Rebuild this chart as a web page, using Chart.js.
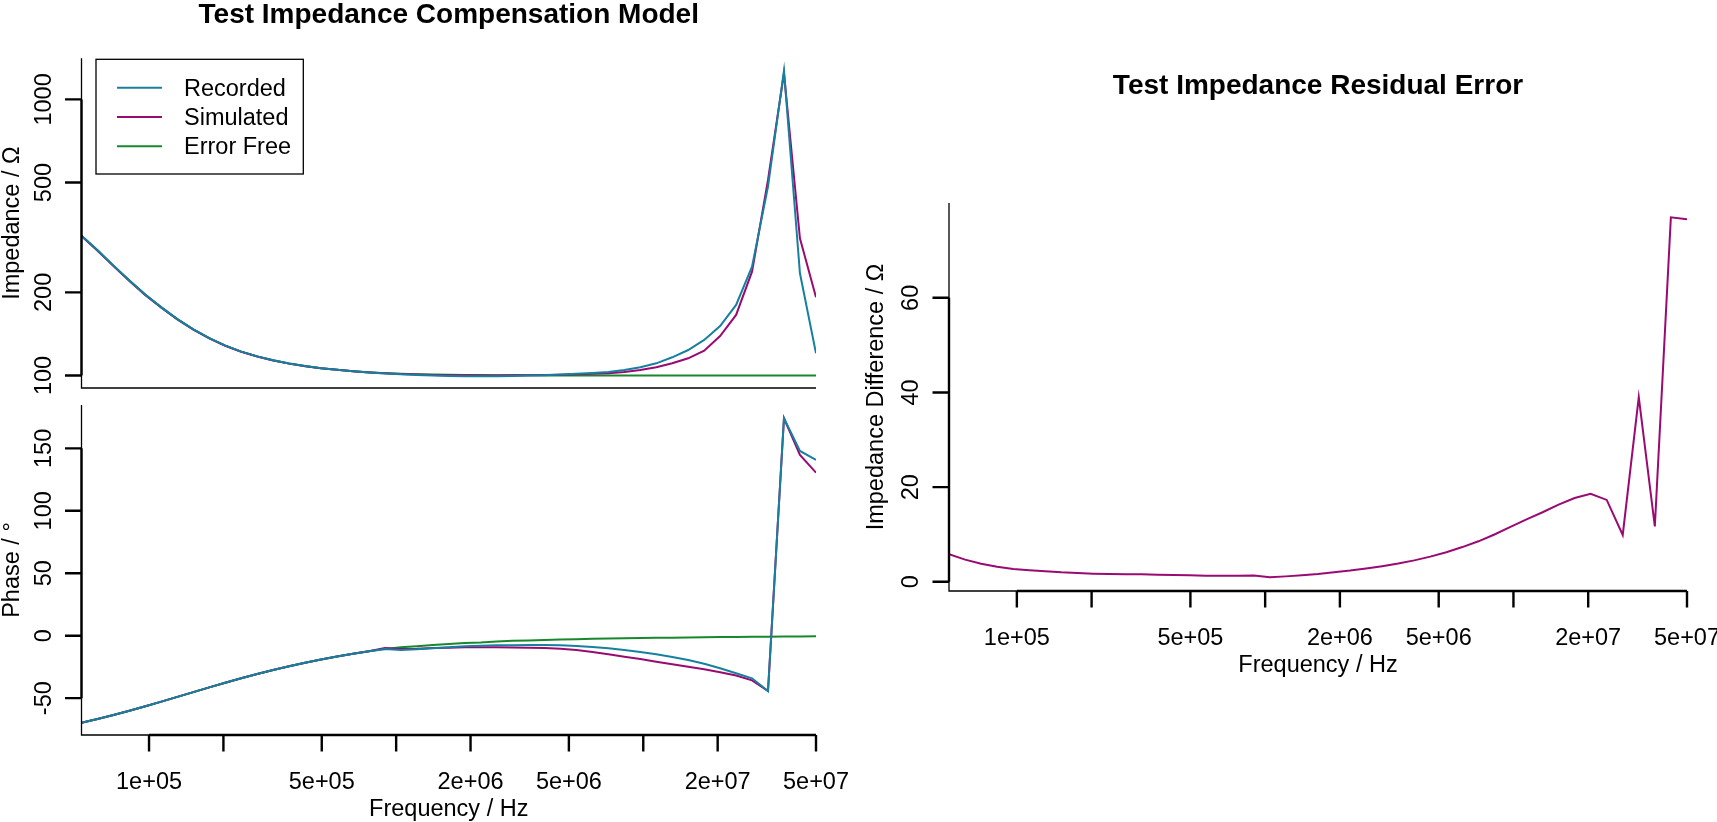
<!DOCTYPE html>
<html>
<head>
<meta charset="utf-8">
<title>Test Impedance</title>
<script src="https://cdn.jsdelivr.net/npm/chart.js@4.4.0/dist/chart.umd.min.js"></script>
<style>
  body { margin: 0; background: #fff; }
  #wrap { position: relative; width: 1717px; height: 822px; overflow: hidden; }
  #wrap canvas { position: absolute; left: 0; top: 0; }
</style>
</head>
<body>
<div id="wrap">
  <canvas id="impedance-chart" width="1717" height="822"></canvas>
  <canvas id="phase-chart" width="1717" height="822"></canvas>
  <canvas id="residual-chart" width="1717" height="822"></canvas>
</div>
<script>
// Частоты измерений, Гц
const freqHz = [53300, 61900, 71800, 83300, 96700, 112200, 130200, 151100, 175300, 203400,
  236000, 273900, 317800, 368800, 428000, 496600, 576300, 668700, 776000, 900400,
  1045000, 1212000, 1407000, 1633000, 1894000, 2198000, 2551000, 2960000, 3435000, 3986000,
  4624000, 5366000, 6227000, 7226000, 8384000, 9727000, 11290000, 13100000, 15200000, 17640000,
  20460000, 23750000, 27550000, 31970000, 37100000, 43050000, 50000000];

const xTickValues = [1e5, 2e5, 5e5, 1e6, 2e6, 5e6, 1e7, 2e7, 5e7];
const xTickLabels = ['1e+05', '', '5e+05', '', '2e+06', '5e+06', '', '2e+07', '5e+07'];

const seriesNames = ['Recorded', 'Simulated', 'Error Free'];

// Импеданс, Ом
const impRecorded = [321, 284, 250, 221, 196, 176.5, 160, 147, 136.5, 128.3,
  122.0, 117.3, 113.5, 110.5, 108.2, 106.3, 104.9, 103.7, 102.5, 101.7,
  101.0, 100.4, 99.9, 99.6, 99.4, 99.3, 99.4, 99.6, 99.9, 100.3,
  100.8, 101.4, 102.1, 103.0, 104.7, 107.1, 110.7, 116.4, 123.7, 134.5,
  151.1, 180.1, 247.9, 483, 1272, 234.6, 120.3];
const impSimulated = [320, 283, 249, 220, 195.5, 176.0, 159.7, 146.7, 136.3, 128.2,
  121.9, 117.2, 113.4, 110.4, 108.1, 106.3, 104.9, 103.7, 102.6, 101.8,
  101.2, 100.8, 100.5, 100.3, 100.2, 100.1, 100.1, 100.2, 100.3, 100.5,
  100.7, 101.0, 101.4, 101.9, 103.0, 104.7, 107.1, 110.7, 115.4, 123.0,
  139.0, 165.7, 237.7, 510.7, 1244, 314, 192];
const impErrorFree = [321, 284, 250, 221, 196, 176.5, 160, 147, 136.5, 128.3,
  122.0, 117.3, 113.5, 110.5, 108.2, 106.3, 104.9, 103.7, 102.7, 102.0,
  101.5, 101.1, 100.8, 100.6, 100.45, 100.35, 100.25, 100.2, 100.15, 100.1,
  100.08, 100.06, 100.05, 100.04, 100.03, 100.02, 100.02, 100.01, 100.01, 100.01,
  100, 100, 100, 100, 100, 100, 100];
const impTicks = [100, 200, 500, 1000];

// Фаза, градусы
const phaseRecorded = [-69.7, -66.7, -63.5, -60.1, -56.5, -52.8, -49.0, -45.2, -41.4, -37.7,
  -34.1, -30.7, -27.5, -24.5, -21.7, -19.1, -16.7, -14.5, -12.5, -10.6,
  -11.4, -10.9, -10.1, -9.3, -8.5, -8.0, -7.7, -7.6, -7.4, -7.4,
  -7.7, -8.3, -9.1, -10.1, -11.4, -13.0, -14.9, -17.0, -19.4, -22.4,
  -26.1, -30.1, -34.1, -44.3, 174.1, 147.9, 140.7];
const phaseSimulated = [-69.7, -66.7, -63.5, -60.1, -56.5, -52.8, -49.0, -45.2, -41.4, -37.7,
  -34.1, -30.7, -27.5, -24.5, -21.7, -19.1, -16.7, -14.5, -12.5, -9.8,
  -10.6, -10.4, -9.9, -9.6, -9.3, -9.3, -9.3, -9.5, -9.6, -9.9,
  -10.4, -11.4, -13.0, -14.9, -16.8, -18.6, -20.8, -22.9, -24.8, -26.9,
  -29.3, -31.9, -35.8, -44.3, 174.1, 144.7, 130.5];
const phaseErrorFree = [-69.7, -66.7, -63.5, -60.1, -56.5, -52.8, -49.0, -45.2, -41.4, -37.7,
  -34.1, -30.7, -27.5, -24.5, -21.7, -19.1, -16.7, -14.5, -12.5, -10.6,
  -9.3, -8.5, -7.5, -6.7, -5.9, -5.4, -4.6, -4.1, -3.8, -3.4,
  -3.1, -2.8, -2.5, -2.3, -2.1, -1.9, -1.7, -1.6, -1.4, -1.3,
  -1.1, -1.0, -0.9, -0.8, -0.7, -0.6, -0.5];
const phaseTicks = [-50, 0, 50, 100, 150];

// Остаточная ошибка, Ом
const residual = [5.83, 4.68, 3.81, 3.17, 2.73, 2.45, 2.23, 2.01, 1.87, 1.73,
  1.65, 1.62, 1.58, 1.51, 1.44, 1.37, 1.29, 1.29, 1.29, 1.33,
  0.94, 1.15, 1.37, 1.65, 2.01, 2.37, 2.81, 3.31, 3.88, 4.53,
  5.32, 6.26, 7.34, 8.56, 10.0, 11.6, 13.2, 14.7, 16.3, 17.7,
  18.6, 17.3, 9.9, 39.0, 11.7, 77.0, 76.6];
const residualTicks = [0, 20, 40, 60];

const colors = ['#17809f', '#990a72', '#18882c'];
const FONT = '"Liberation Sans", Arial, Helvetica, sans-serif';

// Оси в стиле R: L-образная рамка, толстая линия оси между крайними делениями
const rAxes = {
    id: 'rAxes',
    afterDraw(chart, args, o) {
        const ctx = chart.ctx;
        const a = chart.chartArea;
        const xs = chart.scales.x;
        const ys = chart.scales.y;
        ctx.save();
        ctx.strokeStyle = '#000';
        ctx.fillStyle = '#000';

        ctx.lineWidth = 1.3;
        ctx.beginPath();
        ctx.moveTo(a.left, a.top);
        ctx.lineTo(a.left, a.bottom);
        ctx.lineTo(a.right, a.bottom);
        ctx.stroke();

        // ось Y
        const yp = o.yTicks.map(v => ys.getPixelForValue(v));
        ctx.lineWidth = 2.4;
        ctx.beginPath();
        ctx.moveTo(a.left, yp[0]);
        ctx.lineTo(a.left, yp[yp.length - 1]);
        yp.forEach(p => {
            ctx.moveTo(a.left, p);
            ctx.lineTo(a.left - 16.5, p);
        });
        ctx.stroke();

        ctx.font = '23.5px ' + FONT;
        ctx.textAlign = 'center';
        ctx.textBaseline = 'alphabetic';
        yp.forEach((p, i) => {
            ctx.save();
            ctx.translate(a.left - 31, p);
            ctx.rotate(-Math.PI / 2);
            ctx.fillText(String(o.yTicks[i]), 0, 0);
            ctx.restore();
        });
        ctx.save();
        ctx.translate(a.left - o.yTitleGap, (a.top + a.bottom) / 2);
        ctx.rotate(-Math.PI / 2);
        ctx.fillText(o.yTitle, 0, 0);
        ctx.restore();

        // ось X (только у нижних графиков)
        if (o.xAxis) {
            const xp = xTickValues.map(v => xs.getPixelForValue(v));
            ctx.lineWidth = 2.4;
            ctx.beginPath();
            ctx.moveTo(xp[0], a.bottom);
            ctx.lineTo(xp[xp.length - 1], a.bottom);
            xp.forEach(p => {
                ctx.moveTo(p, a.bottom);
                ctx.lineTo(p, a.bottom + 16.5);
            });
            ctx.stroke();
            xp.forEach((p, i) => {
                ctx.fillText(xTickLabels[i], p, a.bottom + 54);
            });
            ctx.fillText('Frequency / Hz', (a.left + a.right) / 2, a.bottom + 80.5);
        }

        if (o.title) {
            ctx.font = 'bold 28px ' + FONT;
            ctx.fillText(o.title, (a.left + a.right) / 2, o.titleY);
        }

        // легенда
        if (o.legend) {
            const box = o.legend;
            ctx.lineWidth = 1.3;
            ctx.strokeRect(box.x, box.y, box.w, box.h);
            ctx.font = '23.5px ' + FONT;
            ctx.textAlign = 'left';
            chart.data.datasets.forEach((ds, i) => {
                const ly = box.y + 28.5 + i * 29.2;
                ctx.strokeStyle = ds.borderColor;
                ctx.lineWidth = 2;
                ctx.beginPath();
                ctx.moveTo(box.x + 21, ly);
                ctx.lineTo(box.x + 66, ly);
                ctx.stroke();
                ctx.fillText(ds.label, box.x + 88, ly + 8.2);
            });
        }
        ctx.restore();
    }
};

function toPoints(values) {
    return values.map((v, i) => ({ x: freqHz[i], y: v }));
}

function lineSet(label, values, color) {
    return {
        label: label,
        data: toPoints(values),
        borderColor: color,
        borderWidth: 2,
        pointRadius: 0,
        tension: 0,
        fill: false
    };
}

function makeChart(id, datasets, yType, yMin, yMax, padding, axesOpts) {
    return new Chart(document.getElementById(id), {
        type: 'line',
        data: { datasets: datasets },
        plugins: [rAxes],
        options: {
            responsive: false,
            animation: false,
            devicePixelRatio: 1,
            layout: { padding: padding },
            scales: {
                x: { type: 'logarithmic', min: 53300, max: 50000000, display: false },
                y: { type: yType, min: yMin, max: yMax, display: false }
            },
            plugins: {
                legend: { display: false },
                tooltip: { enabled: false },
                rAxes: axesOpts
            }
        }
    });
}

makeChart('impedance-chart', [
    lineSet(seriesNames[0], impRecorded, colors[0]),
    lineSet(seriesNames[1], impSimulated, colors[1]),
    lineSet(seriesNames[2], impErrorFree, colors[2])
], 'logarithmic', 90.1, 1409,
{ left: 81.5, top: 58.3, right: 1717 - 816, bottom: 822 - 388 },
{
    yTicks: impTicks, yTitle: 'Impedance / \u03A9', yTitleGap: 63,
    xAxis: false,
    title: 'Test Impedance Compensation Model', titleY: 22.5,
    legend: { x: 96, y: 59.3, w: 207.3, h: 114.7 }
});

makeChart('phase-chart', [
    lineSet(seriesNames[0], phaseRecorded, colors[0]),
    lineSet(seriesNames[1], phaseSimulated, colors[1]),
    lineSet(seriesNames[2], phaseErrorFree, colors[2])
], 'linear', -79.5, 184.7,
{ left: 81.5, top: 405, right: 1717 - 816, bottom: 822 - 735 },
{ yTicks: phaseTicks, yTitle: 'Phase / \u00B0', yTitleGap: 63, xAxis: true });

makeChart('residual-chart', [
    lineSet('Residual', residual, colors[1])
], 'linear', -1.94, 80.03,
{ left: 949, top: 203, right: 1717 - 1687, bottom: 822 - 591 },
{
    yTicks: residualTicks, yTitle: 'Impedance Difference / \u03A9', yTitleGap: 66,
    xAxis: true,
    title: 'Test Impedance Residual Error', titleY: 94
});
</script>
</body>
</html>
